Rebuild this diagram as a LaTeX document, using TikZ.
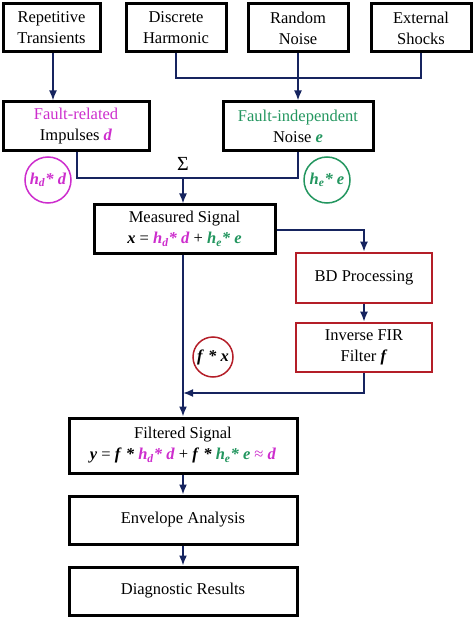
\documentclass[tikz,border=0pt]{standalone}
\usepackage{fontspec}
\setmainfont{Liberation Serif}
\newfontfamily\boxfont{Liberation Serif}
\usetikzlibrary{arrows.meta, positioning}

\definecolor{fdmag}{RGB}{205,45,205}
\definecolor{fdgreen}{RGB}{35,150,95}
\definecolor{bdred}{RGB}{180,30,40}
\definecolor{flownavy}{RGB}{22,36,95}

\newcommand{\bi}[1]{\textbf{\textit{#1}}}
\newcommand{\hd}{\bi{h}\textsubscript{\bi{d}}}
\newcommand{\he}{\bi{h}\textsubscript{\bi{e}}}

\begin{document}
\begin{tikzpicture}[x=1pt,y=-1pt,>={Latex[length=10pt,width=8pt]},
                    font=\boxfont\fontsize{16.5}{21}\selectfont,
                    main node/.style={draw=black,line width=3pt,inner sep=0pt,align=center,minimum height=48pt},
                    red node/.style={main node,draw=bdred,line width=2.6pt},
                    conv node/.style={circle,draw,line width=1.5pt,minimum size=#1,inner sep=0pt},
                    flow/.style={draw=flownavy,line width=1.7pt}]
        \useasboundingbox (0,0) rectangle (474,620);

        % sources
        \node[main node, minimum width=97pt] (1) at (51.5,28) {Repetitive\\Transients};
        \node[main node, minimum width=100pt] (2) at (176,28) {Discrete\\Harmonic};
        \node[main node, minimum width=100pt] (3) at (298,28) {Random\\Noise};
        \node[main node, minimum width=100pt] (4) at (421,28) {External\\Shocks};

        % components
        \node[main node, minimum width=146pt, minimum height=49pt] (5) at (76,126.5)
            {\textcolor{fdmag}{Fault-related}\\Impulses \textcolor{fdmag}{\bi{d}}};
        \node[main node, minimum width=150pt, minimum height=49pt] (6) at (298,126.5)
            {\textcolor{fdgreen}{Fault-independent}\\Noise \textcolor{fdgreen}{\bi{e}}};

        \node[font=\boxfont\fontsize{20}{22}\selectfont] (7s) at (183,164) {Σ};
        \node[main node, minimum width=181pt] (7) at (184.5,229)
            {Measured Signal\\\bi{x} = \textcolor{fdmag}{\hd\bi{*} \bi{d}} + \textcolor{fdgreen}{\he\bi{*} \bi{e}}};

        % blind deconvolution
        \node[red node, minimum width=136pt, minimum height=50pt] (8) at (364,278) {BD Processing};
        \node[red node, minimum width=136pt, minimum height=49pt] (9) at (364,347.5) {Inverse FIR\\Filter \bi{f}};

        \node[main node, minimum width=228pt, minimum height=55pt] (10) at (183,445.5)
            {Filtered Signal\\\bi{y} = \bi{f} \bi{*} \textcolor{fdmag}{\hd\bi{*} \bi{d}} + \bi{f} \bi{*} \textcolor{fdgreen}{\he\bi{*} \bi{e}} \textcolor{fdmag}{≈ \bi{d}}};
        \node[main node, minimum width=228pt] (11) at (183,520) {Envelope Analysis};
        \node[main node, minimum width=228pt] (12) at (183,591) {Diagnostic Results};

        % convolution labels
        \node[conv node=46pt, draw=fdmag, text=fdmag] (13) at (48,180) {\hd\bi{*} \bi{d}};
        \node[conv node=46pt, draw=fdgreen, text=fdgreen] (14) at (327,180) {\he\bi{*} \bi{e}};
        \node[conv node=40pt, draw=bdred] (15) at (213,357) {\bi{f} \bi{*} \bi{x}};

        \coordinate (m) at (298,78);
        \coordinate (s) at (183,178);
        \coordinate (j) at (183,393);

        \path[flow] (2.south) |- (m) -| (4.south);
        \path[flow] (5.south -| 77,0) |- (s) -| (6.south);
        \path[flow] (7.south -| s) -- (j);
        \path[flow,->] (1.south -| 53,0) -- (5.north -| 53,0);
        \path[flow,->] (3.south) -- (6.north);
        \path[flow,->] (s) -- (7.north -| s);
        \path[flow,->] (7.east |- 0,230) -| (8.north);
        \path[flow,->] (8.south) -- (9.north);
        \path[flow,->] (9.south) |- (j);
        \path[flow,->] (j) -- (10.north);
        \path[flow,->] (10.south) -- (11.north);
        \path[flow,->] (11.south) -- (12.north);
\end{tikzpicture}
\end{document}
